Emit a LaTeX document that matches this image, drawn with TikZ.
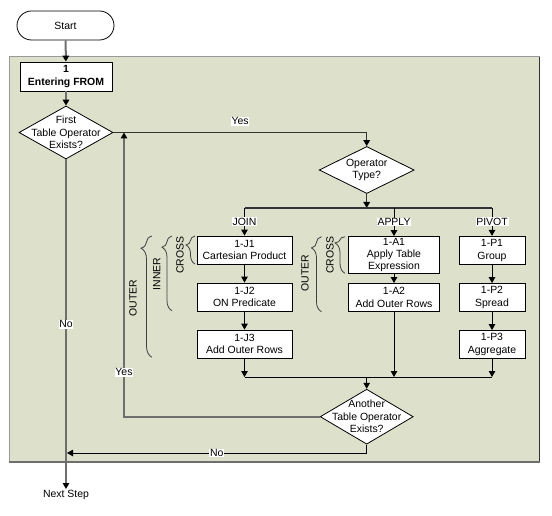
\documentclass[tikz,border=0pt]{standalone}
\usepackage{fontspec}
\setmainfont{Liberation Sans}
\usetikzlibrary{shapes.geometric}
\usetikzlibrary{arrows.meta}
\usetikzlibrary{decorations.pathreplacing}
\definecolor{panelgreen}{RGB}{221,224,203}
\definecolor{flowgray}{RGB}{110,110,110}

\begin{document}
\begin{tikzpicture}[x=1bp,y=-1bp,
        font=\fontsize{10.5}{12.5}\selectfont,
        >={Triangle[width=6.5bp,length=6bp,black]},
        box/.style={draw,fill=white,line width=0.8bp,align=center,inner sep=0pt,minimum height=28bp},
        decision/.style={draw,fill=white,diamond,inner sep=0pt,line width=0.8bp},
        tag/.style={fill=white,inner sep=0.8bp},
        bracetxt/.style={rotate=90,inner sep=0pt},
        mainline/.style={draw=flowgray,line width=2bp},
        thinline/.style={draw=black,line width=1bp},
        curly/.style={draw=black!75,line width=0.8bp,decorate}]
    \useasboundingbox (0,0) rectangle (552,516);
    % panel
    \fill[panelgreen] (9.3,56.7) rectangle (539.5,461.5);
    \draw[gray!80,line width=1bp] (9.3,461.5) -- (9.3,56.7) -- (539.5,56.7);
    \draw[black!80,line width=1.2bp] (539.5,56.7) -- (539.5,461.5);
    \draw[flowgray,line width=2bp] (9.3,461.5) -- (540,461.5);

    \node[draw,rounded corners=14.5bp,minimum width=97bp,minimum height=29bp,line width=0.8bp] (start) at (65.5,25.5) {Start};
    \node[box,minimum width=92bp,minimum height=29bp,font=\fontsize{10.5}{12.5}\selectfont\bfseries] (enter) at (66,76.5) {1\\Entering FROM};
    \node[decision,minimum width=94bp,minimum height=53bp,label={[align=center]center:First\\Table Operator\\Exists?}] (first) at (66,132.5) {};
    \node[decision,minimum width=95bp,minimum height=47bp,label={[align=center]center:Operator\\Type?}] (optype) at (366.7,170) {};
    \node[decision,minimum width=93bp,minimum height=55bp,label={[align=center]center:Another\\Table Operator\\Exists?}] (another) at (366.7,416.7) {};
    \node[inner sep=1bp,anchor=north] (next) at (66,489) {Next Step};

    % join column
    \node[box,minimum width=95bp] (j1) at (244.5,250) {1-J1\\Cartesian Product};
    \node[box,minimum width=95bp] (j2) at (244.5,297) {1-J2\\ON Predicate};
    \node[box,minimum width=95bp] (j3) at (244.5,344) {1-J3\\Add Outer Rows};
    % apply column
    \node[box,minimum width=91bp,minimum height=37bp] (a1) at (394,255) {1-A1\\Apply Table\\Expression};
    \node[box,minimum width=91bp] (a2) at (394,297.5) {1-A2\\Add Outer Rows};
    % pivot column
    \node[box,minimum width=66bp] (p1) at (492,250.3) {1-P1\\Group};
    \node[box,minimum width=66bp] (p2) at (492,297.5) {1-P2\\Spread};
    \node[box,minimum width=66bp] (p3) at (492,344.5) {1-P3\\Aggregate};

    \coordinate (yescorner) at (366.7,132.5);
    \coordinate (branch) at (366.7,208);
    \coordinate (joincol) at (244.5,208);
    \coordinate (applycol) at (394,208);
    \coordinate (pivotcol) at (492,208);
    \coordinate (joinend) at (244.5,377);
    \coordinate (applyend) at (394,377);
    \coordinate (pivotend) at (492,377);
    \coordinate (mergemid) at (366.7,377);
    \coordinate (loopcorner) at (124,416.7);
    \coordinate (looptop) at (124,132.5);
    \coordinate (nocorner) at (366.7,453);
    \coordinate (notip) at (67,453);

    \draw[mainline,->] (start) -- (enter);
    \draw[mainline,->] (enter) -- (first);
    \draw[mainline,->] (first) -- node[tag]{No} (next);
    \draw[draw=black!80,line width=1.4bp,->] (first.east) -- node[tag,above=6bp]{Yes} (yescorner) -- (optype);
    \draw[draw=black!80,line width=1.4bp,->] (optype) -- (branch);
    \draw[draw=black!80,line width=1.4bp] (joincol) -- (pivotcol);
    \draw[thinline,->] (joincol) -- node[tag]{JOIN} (j1);
    \draw[thinline,->] (applycol) -- node[tag]{APPLY} (a1);
    \draw[thinline,->] (pivotcol) -- node[tag]{PIVOT} (p1);
    \draw[thinline,->] (j1) -- (j2);
    \draw[thinline,->] (j2) -- (j3);
    \draw[thinline,->] (j3) -- (joinend);
    \draw[thinline,->] (a1) -- (a2);
    \draw[thinline,->] (a2) -- (applyend);
    \draw[thinline,->] (p1) -- (p2);
    \draw[thinline,->] (p2) -- (p3);
    \draw[thinline,->] (p3) -- (pivotend);
    \draw[thinline] (joinend) -- (pivotend);
    \draw[thinline,->] (mergemid) -- (another);
    \draw[mainline,->] (another.west) -- (loopcorner) -- node[tag,pos=0.157]{Yes} (looptop);
    \draw[thinline,->] (another.south) -- (nocorner) -- node[tag]{No} (notip);

    % braces
    \draw[curly,decoration={brace,amplitude=11bp,aspect=0.9}] (152,357.3) -- (152,236);
    \draw[curly,decoration={brace,amplitude=10bp,aspect=0.85}] (172,310.7) -- (172,236);
    \draw[curly,decoration={brace,amplitude=9bp,aspect=0.68}] (195,264) -- (195,236);
    \draw[curly,decoration={brace,amplitude=10bp,aspect=0.85}] (321.5,311.7) -- (321.5,236.7);
    \draw[curly,decoration={brace,amplitude=10bp,aspect=0.83}] (345,273.3) -- (345,236.7);
    \node[bracetxt] (outerj) at (133,298) {OUTER};
    \node[bracetxt] (innerj) at (156.7,274) {INNER};
    \node[bracetxt] (crossj) at (180,255) {CROSS};
    \node[bracetxt] (outera) at (305,273) {OUTER};
    \node[bracetxt] (crossa) at (330,255) {CROSS};
\end{tikzpicture}
\end{document}
